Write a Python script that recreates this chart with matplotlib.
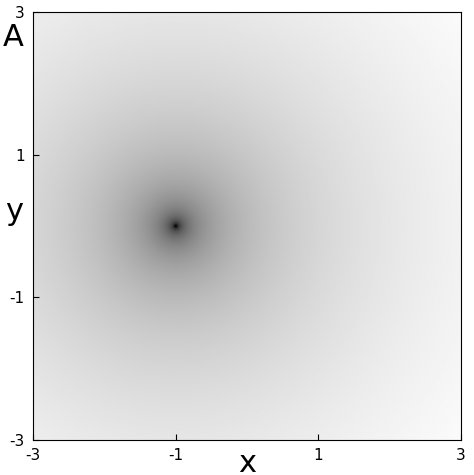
import numpy as np
import matplotlib
matplotlib.use("Agg")
import matplotlib.pyplot as plt

# domain and source point
x_range = [-3, 3]
y_range = [-3, 3]
center = [-1, 0]
ticks = [-3, -1, 1, 3]

xs = np.linspace(x_range[0], x_range[1], 600)
ys = np.linspace(y_range[0], y_range[1], 600)
X, Y = np.meshgrid(xs, ys)
R = np.hypot(X - center[0], Y - center[1])
A = np.log(R + 1e-6)

fig = plt.figure(figsize=(4.74, 4.75), dpi=100)
ax = fig.add_axes([33 / 474, 35 / 475, 428 / 474, 428 / 475])
ax.imshow(A, cmap="gray", origin="lower", extent=x_range + y_range,
          vmin=np.log(0.01), vmax=np.log(5.6), interpolation="bilinear")
ax.set_xticks(ticks)
ax.set_yticks(ticks)
ax.set_xticklabels([str(t) for t in ticks], fontsize=11)
ax.set_yticklabels([str(t) for t in ticks], fontsize=11)
ax.tick_params(direction="in", length=4, pad=6)
ax.set_xlabel("x", fontsize=22, labelpad=-10)
ax.set_ylabel("y", fontsize=22, rotation=0, labelpad=0)
ax.yaxis.set_label_coords(-0.045, 0.5)
ax.set_title("A", fontsize=22, loc="left", x=-0.07, y=0.9)
fig.savefig("out.png", dpi=100)
